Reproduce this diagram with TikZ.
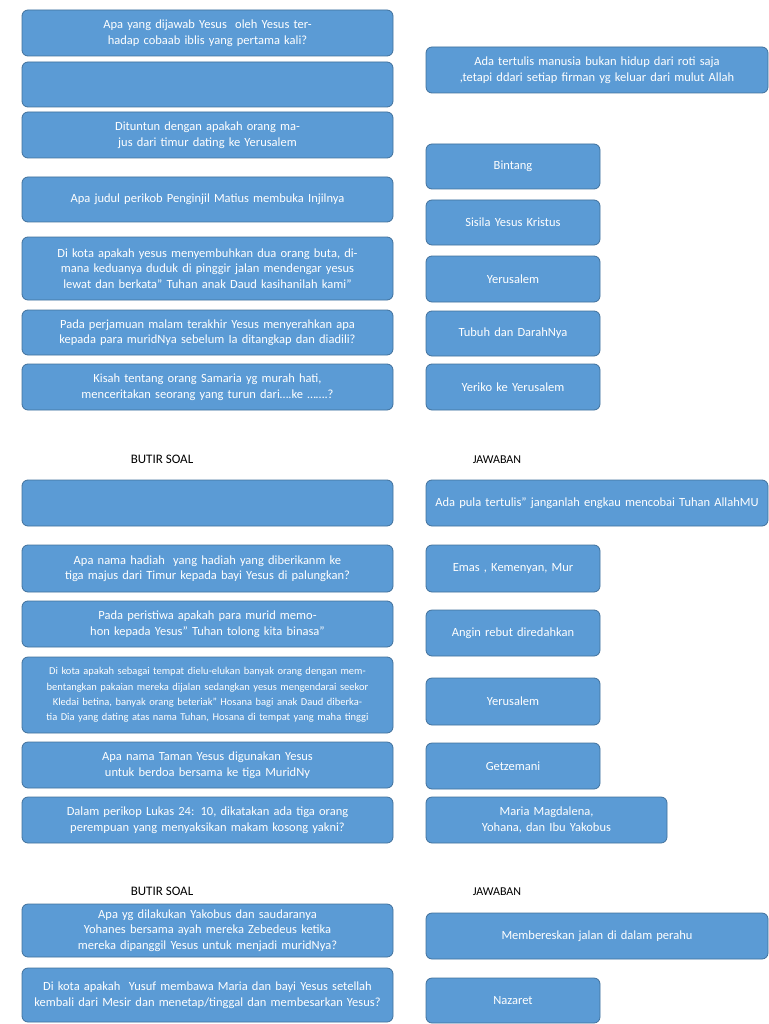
\documentclass[tikz,border=0pt]{standalone}
\usepackage{fontspec}
\setmainfont{Carlito}
\definecolor{bfill}{HTML}{5B9BD5}
\definecolor{bline}{HTML}{41719C}
\tikzset{qbox/.style={draw=bline,fill=bfill,rounded corners=6pt,line width=0.8pt,text=white,align=center,inner sep=2pt,font=\fontsize{12.5}{15.5}\selectfont},
hdr/.style={font=\fontsize{13}{15}\selectfont}}
\newcommand{\bx}[6]{% name, x1,y1,x2,y2,text
\node[qbox,minimum width=#4-#2,minimum height=#5-#3,text width=#4-#2-14] (#1) at ({(#2+#4)/2},{(#3+#5)/2}) {#6};}
\begin{document}
\begin{tikzpicture}[x=1pt,y=-1pt]
\useasboundingbox (0,0) rectangle (768,1024);
\bx{l1}{22}{10}{393}{56}{Apa yang dijawab Yesus\ \ oleh Yesus terhadap cobaab iblis yang pertama kali?}
\bx{l2}{22}{62}{393}{107}{}
\bx{l3}{22}{112}{393}{158}{Dituntun dengan apakah orang majus dari timur dating ke Yerusalem}
\bx{l4}{22}{177}{393}{222}{Apa judul perikob Penginjil Matius membuka Injilnya}
\bx{l5}{22}{237}{393}{300}{Di kota apakah yesus menyembuhkan dua orang buta, dimana keduanya duduk di pinggir jalan mendengar yesus lewat dan berkata'' Tuhan anak Daud kasihanilah kami''}
\bx{l6}{22}{310}{393}{355}{Pada perjamuan malam terakhir Yesus menyerahkan apa kepada para muridNya sebelum Ia ditangkap dan diadili?}
\bx{l7}{22}{364}{393}{410}{Kisah tentang orang Samaria yg murah hati, menceritakan seorang yang turun dari….ke …….?}
\bx{r1}{426}{47}{768}{93}{Ada tertulis manusia bukan hidup dari roti saja ,tetapi ddari setiap firman yg keluar dari mulut Allah}
\bx{r2}{426}{144}{600}{189}{Bintang}
\bx{r3}{426}{200}{600}{245}{Sisila Yesus Kristus}
\bx{r4}{426}{256}{600}{302}{Yerusalem}
\bx{r5}{426}{311}{600}{356}{Tubuh dan DarahNya}
\bx{r6}{426}{364}{600}{410}{Yeriko ke Yerusalem}
\node[hdr] (h1) at (162,459) {BUTIR SOAL};
\node[hdr,font=\fontsize{12}{14}\selectfont] (h2) at (497,460) {JAWABAN};
\bx{m1}{22}{480}{393}{526}{}
\bx{m2}{22}{545}{393}{592}{Apa nama hadiah\ \ yang hadiah yang diberikanm ke tiga majus dari Timur kepada bayi Yesus di palungkan?}
\bx{m3}{22}{601}{393}{647}{Pada peristiwa apakah para murid memohon kepada Yesus'' Tuhan tolong kita binasa''}
\node[qbox,minimum width=371,minimum height=76,text width=365,font=\fontsize{10.5}{15.3}\selectfont] (m4) at (207.5,695) {Di kota apakah sebagai tempat dielu-elukan banyak orang dengan membentangkan pakaian mereka dijalan sedangkan yesus mengendarai seekor Kledai betina, banyak orang beteriak'' Hosana bagi anak Daud diberkatia Dia yang dating atas nama Tuhan, Hosana di tempat yang maha tinggi};
\bx{m5}{22}{742}{393}{788}{Apa nama Taman Yesus digunakan Yesus\ \ untuk berdoa bersama ke tiga MuridNy}
\bx{m6}{22}{797}{393}{843}{Dalam perikop Lukas 24: 10, dikatakan ada tiga orang perempuan yang menyaksikan makam kosong yakni?}
\bx{s1}{426}{480}{768}{526}{Ada pula tertulis'' janganlah engkau mencobai Tuhan AllahMU}
\bx{s2}{426}{545}{600}{592}{Emas , Kemenyan, Mur}
\bx{s3}{426}{610}{600}{656}{Angin rebut diredahkan}
\bx{s4}{426}{678}{600}{725}{Yerusalem}
\bx{s5}{426}{743}{600}{789}{Getzemani}
\bx{s6}{426}{797}{667}{843}{Maria Magdalena, Yohana, dan Ibu Yakobus}
\node[hdr] (h3) at (162,891) {BUTIR SOAL};
\node[hdr,font=\fontsize{12}{14}\selectfont] (h4) at (497,892) {JAWABAN};
\bx{n1}{22}{904}{393}{957}{Apa yg dilakukan Yakobus dan saudaranya Yohanes bersama ayah mereka Zebedeus ketika mereka dipanggil Yesus untuk menjadi muridNya?}
\bx{n2}{22}{968}{393}{1022}{Di kota apakah\ \ Yusuf membawa Maria dan bayi Yesus setellah kembali dari Mesir dan menetap/tinggal dan membesarkan Yesus?}
\bx{t1}{426}{913}{768}{959}{Membereskan jalan di dalam perahu}
\bx{t2}{426}{978}{600}{1023}{Nazaret}
\end{tikzpicture}
\end{document}
